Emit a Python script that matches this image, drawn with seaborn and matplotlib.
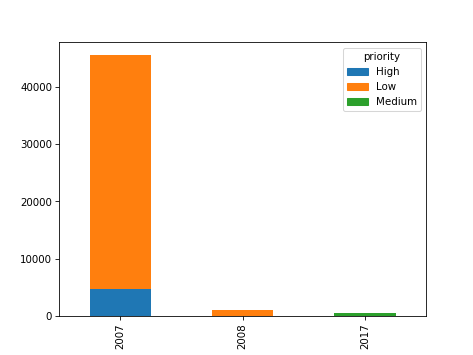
import numpy as np
import pandas as pd
import matplotlib
matplotlib.use("Agg")
import matplotlib.pyplot as plt
import seaborn as sns

years = ["2007", "2008", "2017"]
high = [4650, 0, 0]
low = [40800, 1050, 0]
medium = [0, 0, 470]

priorities = ["High", "Low", "Medium"]
colors = {"High": "#1f77b4", "Low": "#ff7f0e", "Medium": "#2ca02c"}

df = pd.DataFrame({
    "year": years * 3,
    "priority": ["High"] * 3 + ["Low"] * 3 + ["Medium"] * 3,
    "count": high + low + medium,
})

fig, ax = plt.subplots(figsize=(6.4, 4.8), dpi=74)

sns.histplot(
    data=df,
    x="year",
    hue="priority",
    weights="count",
    multiple="stack",
    discrete=True,
    shrink=0.5,
    hue_order=priorities[::-1],
    palette=colors,
    alpha=1,
    linewidth=0,
    ax=ax,
)

ax.set_xlabel("")
ax.set_ylabel("")
ax.set_xlim(-0.5, 2.5)
ax.tick_params(axis="x", rotation=90)

leg = ax.get_legend()
if leg is not None:
    leg.remove()
handles = [plt.Rectangle((0, 0), 1, 1, color=colors[p]) for p in priorities]
ax.legend(handles, priorities, title="priority", loc="upper right")

plt.savefig("out.png")
